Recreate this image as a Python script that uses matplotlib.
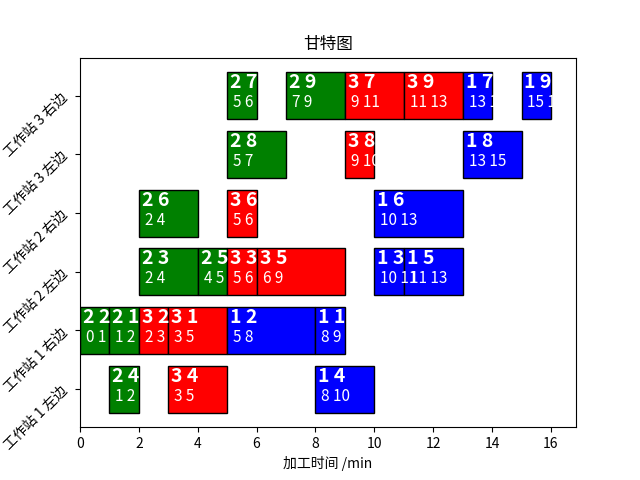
import matplotlib
matplotlib.use("Agg")
import matplotlib.pyplot as plt

plt.rcParams['font.family'] = ['Noto Sans CJK SC', 'DejaVu Sans']
plt.rcParams['axes.unicode_minus'] = False

row_labels = ["工作站 1 左边", "工作站 1 右边", "工作站 2 左边", "工作站 2 右边", "工作站 3 左边", "工作站 3 右边"]
rows   = [0, 0, 0, 1, 1, 1, 1, 1, 1, 2, 2, 2, 2, 2, 2, 3, 3, 3, 4, 4, 4, 5, 5, 5, 5, 5, 5]
starts = [1, 3, 8, 0, 1, 2, 3, 5, 8, 2, 4, 5, 6, 10, 11, 2, 5, 10, 5, 9, 13, 5, 7, 9, 11, 13, 15]
ends   = [2, 5, 10, 1, 2, 3, 5, 8, 9, 4, 5, 6, 9, 11, 13, 4, 6, 13, 7, 10, 15, 6, 9, 11, 13, 14, 16]
colors = ['g', 'r', 'b', 'g', 'g', 'r', 'r', 'b', 'b', 'g', 'g', 'r', 'r', 'b', 'b', 'g', 'r', 'b',
          'g', 'r', 'b', 'g', 'g', 'r', 'r', 'b', 'b']
jobs   = ["2 4", "3 4", "1 4", "2 2", "2 1", "3 2", "3 1", "1 2", "1 1", "2 3", "2 5", "3 3", "3 5",
          "1 3", "1 5", "2 6", "3 6", "1 6", "2 8", "3 8", "1 8", "2 7", "2 9", "3 7", "3 9", "1 7", "1 9"]
cmap = {'g': 'green', 'r': 'red', 'b': 'blue'}

fig, ax = plt.subplots(figsize=(6.4, 4.8), dpi=100)
for r, s, e, c, j in zip(rows, starts, ends, colors, jobs):
    bars = ax.barh(r, e - s, left=s, height=0.8, color=cmap[c], edgecolor='black')
    rect = bars.patches[0]
    t1 = ax.text(s + 0.1, r + 0.22, j, color='white', fontsize=14, fontweight='bold', va='center', ha='left')
    t2 = ax.text(s + 0.2, r - 0.12, f"{s} {e}", color='white', fontsize=11, va='center', ha='left')
    t1.set_clip_path(rect)
    t2.set_clip_path(rect)

ax.set_ylim(-0.65, 5.65)
ax.set_xlim(0, 16.85)
ax.set_yticks(range(6))
ax.set_yticklabels(row_labels, rotation=45)
ax.set_xticks(range(0, 17, 2))
ax.set_xlabel("加工时间 /min")
ax.set_title("甘特图")
fig.savefig("out.png", dpi=100)
